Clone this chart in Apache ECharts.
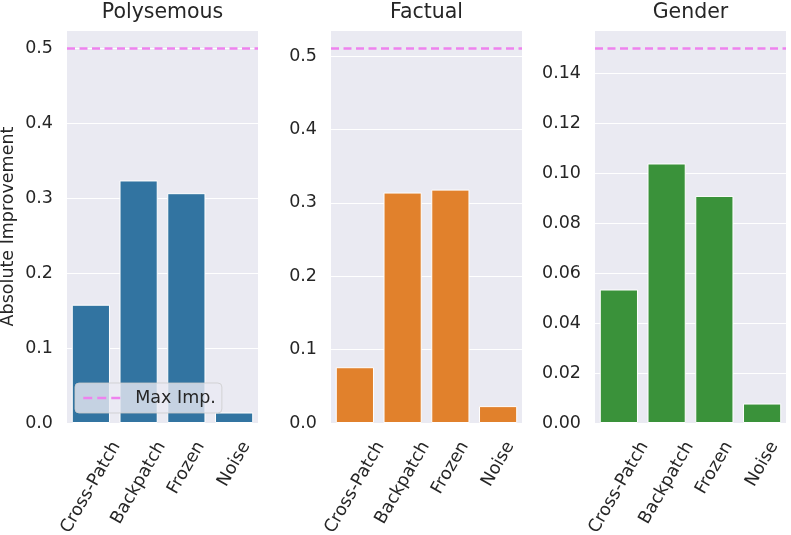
<!DOCTYPE html>
<html>
<head>
<meta charset="utf-8">
<script src="https://cdn.jsdelivr.net/npm/echarts@6/dist/echarts.min.js"></script>
<style>
html,body{margin:0;padding:0;background:#fff;}
#main{width:791px;height:535px;}
</style>
</head>
<body>
<div id="main"></div>
<script>
const categories = ['Cross-Patch', 'Backpatch', 'Frozen', 'Noise'];
const panelTitles = ['Polysemous', 'Factual', 'Gender'];
const polysemous = [0.158, 0.324, 0.307, 0.014];
const factual = [0.076, 0.314, 0.318, 0.023];
const gender = [0.0535, 0.104, 0.091, 0.0078];
const maxImp = [0.5, 0.51, 0.15];
const yTickStep = [0.1, 0.1, 0.02];
const yTickDecimals = [1, 1, 2];
const legendLabel = 'Max Imp.';
const yAxisTitle = 'Absolute Improvement';

const panelValues = [polysemous, factual, gender];
const barColors = ['#3274a1', '#e1812c', '#3a923a'];
const lineColor = '#ee82ee';
const textColor = '#262626';
const FONT = '"DejaVu Sans", sans-serif';
const tickFont = 17.5;
const gridLefts = [67, 331, 595];
const gridWidth = 191, gridTop = 30, gridHeight = 393;
const dash = { color: lineColor, width: 2.5, type: [8, 4.5] };

const grids = [], xAxes = [], yAxes = [], series = [], titles = [];
for (let i = 0; i < 3; i++) {
  grids.push({ left: gridLefts[i], top: gridTop, width: gridWidth, height: gridHeight,
    containLabel: false, outerBoundsMode: 'none',
    show: true, backgroundColor: '#eaeaf2', borderWidth: 0 });
  titles.push({ text: panelTitles[i], left: gridLefts[i] + gridWidth / 2, textAlign: 'center',
    top: 2, padding: 0,
    textStyle: { fontFamily: FONT, fontSize: 20.5, fontWeight: 'normal', color: textColor } });
  xAxes.push({ type: 'category', gridIndex: i, data: categories,
    axisLine: { show: false }, axisTick: { show: false }, splitLine: { show: false },
    axisLabel: { show: false } });
  const dec = yTickDecimals[i];
  yAxes.push({ type: 'value', gridIndex: i, min: 0, max: maxImp[i] * 1.05, interval: yTickStep[i],
    axisLine: { show: false }, axisTick: { show: false },
    splitLine: { show: true, lineStyle: { color: '#ffffff', width: 1.2 } },
    axisLabel: { showMaxLabel: false, margin: 14, fontFamily: FONT, fontSize: tickFont, color: textColor,
      formatter: v => v.toFixed(dec) },
    name: i === 0 ? yAxisTitle : '', nameLocation: 'middle', nameGap: 50,
    nameTextStyle: { fontFamily: FONT, fontSize: 17.5, color: textColor } });
  series.push({ type: 'bar', xAxisIndex: i, yAxisIndex: i, data: panelValues[i],
    barCategoryGap: '20%', itemStyle: { color: barColors[i], borderColor: '#ffffff', borderWidth: 1 },
    silent: true, z: 2 });
  series.push({ type: 'line', name: legendLabel, xAxisIndex: i, yAxisIndex: i, data: [],
    symbol: 'none', color: lineColor, lineStyle: dash,
    markLine: { silent: true, symbol: 'none', label: { show: false },
      lineStyle: dash, data: [{ yAxis: maxImp[i] }] }, z: 3 });
}

const chart = echarts.init(document.getElementById('main'), null, { renderer: 'canvas' });
chart.setOption({
  animation: false,
  backgroundColor: '#ffffff',
  title: titles,
  grid: grids,
  xAxis: xAxes,
  yAxis: yAxes,
  legend: { data: [legendLabel], left: 75, top: 383, orient: 'horizontal',
    itemWidth: 38, itemHeight: 14, padding: [6, 6, 6, 7],
    itemStyle: { opacity: 0 },
    lineStyle: { color: lineColor, width: 2.5, type: [9, 5], opacity: 1 },
    backgroundColor: 'rgba(234,234,242,0.8)', borderColor: 'rgba(204,204,204,0.8)', borderWidth: 1,
    borderRadius: 4, selectedMode: false,
    textStyle: { fontFamily: FONT, fontSize: 17.5, color: textColor, padding: [0, 0, 0, 9] } },
  series: series
});

// Category tick labels rotated 60°, bbox centred under the tick (matplotlib style),
// anchored at the positions given by the chart's own category axes.
const cv = document.createElement('canvas').getContext('2d');
cv.font = tickFont + 'px "DejaVu Sans"';
const lineH = tickFont * 1.17;
const topGap = 15;
const ang = Math.PI / 3;
const labelGraphics = [];
for (let i = 0; i < 3; i++) {
  categories.forEach((name, j) => {
    const p = chart.convertToPixel({ xAxisIndex: i, yAxisIndex: i }, [j, 0]);
    const L = cv.measureText(name).width;
    const bboxH = L * Math.sin(ang) + lineH * Math.cos(ang);
    labelGraphics.push({ type: 'text', x: p[0], y: p[1] + topGap + bboxH / 2, rotation: ang, silent: true,
      style: { text: name, align: 'center', verticalAlign: 'middle', fontFamily: FONT,
        fontSize: tickFont, fill: textColor } });
  });
}
chart.setOption({ graphic: labelGraphics });
</script>
</body>
</html>
